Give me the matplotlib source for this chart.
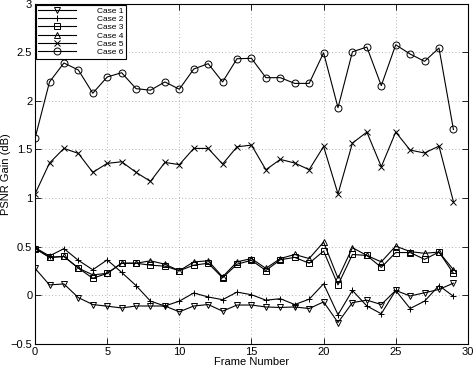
import numpy as np
import matplotlib
matplotlib.use("Agg")
import matplotlib.pyplot as plt

frames = np.arange(30)

case1 = [0.277, 0.107, 0.117, -0.024, -0.095, -0.112, -0.13, -0.11, -0.11, -0.11,
         -0.17, -0.11, -0.095, -0.163, -0.10, -0.10, -0.12, -0.125, -0.12, -0.136,
         -0.068, -0.28, -0.075, -0.05, -0.095, 0.05, -0.007, 0.026, 0.06, 0.125]
case2 = [0.49, 0.405, 0.48, 0.36, 0.263, 0.364, 0.236, 0.10, -0.06, -0.11,
         -0.06, 0.024, -0.017, -0.045, 0.033, 0.006, -0.05, -0.035, -0.095, -0.04,
         0.118, -0.2, 0.05, -0.11, -0.19, 0.05, -0.136, -0.06, 0.10, -0.01]
case3 = [0.48, 0.39, 0.40, 0.28, 0.175, 0.226, 0.33, 0.33, 0.31, 0.30,
         0.253, 0.31, 0.33, 0.18, 0.32, 0.36, 0.255, 0.366, 0.39, 0.33,
         0.455, 0.107, 0.42, 0.41, 0.287, 0.44, 0.44, 0.37, 0.445, 0.226]
case4 = [0.49, 0.39, 0.40, 0.28, 0.21, 0.226, 0.33, 0.33, 0.355, 0.32,
         0.253, 0.344, 0.355, 0.19, 0.344, 0.378, 0.277, 0.378, 0.42, 0.378,
         0.547, 0.175, 0.49, 0.41, 0.344, 0.506, 0.45, 0.432, 0.445, 0.263]
case5 = [1.043, 1.361, 1.511, 1.46, 1.265, 1.357, 1.374, 1.265, 1.172, 1.367,
         1.344, 1.511, 1.511, 1.35, 1.528, 1.545, 1.292, 1.398, 1.361, 1.292,
         1.531, 1.043, 1.566, 1.679, 1.323, 1.679, 1.494, 1.464, 1.535, 0.964]
case6 = [1.617, 2.195, 2.39, 2.318, 2.079, 2.246, 2.29, 2.126, 2.11, 2.195,
         2.12, 2.328, 2.383, 2.195, 2.434, 2.438, 2.239, 2.239, 2.18, 2.18,
         2.495, 1.93, 2.505, 2.554, 2.157, 2.577, 2.482, 2.407, 2.544, 1.706]

series = [case1, case2, case3, case4, case5, case6]
labels = ["Case 1", "Case 2", "Case 3", "Case 4", "Case 5", "Case 6"]
markers = ["v", "+", "s", "^", "x", "o"]

plt.rcParams["font.family"] = ["Liberation Sans", "DejaVu Sans"]
plt.rcParams["font.size"] = 8

fig = plt.figure(figsize=(4.74, 3.69), dpi=100)
ax = fig.add_axes([0.074, 0.068, 0.913, 0.922])

for vals, lab, mk in zip(series, labels, markers):
    ax.plot(frames, vals, color="black", linewidth=0.8, marker=mk,
            markersize=5, markerfacecolor="none", markeredgecolor="black",
            markeredgewidth=0.7, label=lab)

ax.set_xlim(0, 30)
ax.set_ylim(-0.5, 3)
ax.set_xticks(np.arange(0, 31, 5))
ax.set_yticks(np.arange(-0.5, 3.01, 0.5))
ax.set_yticklabels(["\u22120.5", "0", "0.5", "1", "1.5", "2", "2.5", "3"])
ax.grid(True, linestyle=(0, (1, 3)), color="#999999", linewidth=0.6)
ax.tick_params(direction="in", top=True, right=True, length=4, width=0.6,
               pad=2)
for s in ax.spines.values():
    s.set_linewidth(0.8)

ax.set_xlabel("Frame Number", labelpad=0)
ax.set_ylabel("PSNR Gain (dB)", labelpad=0)

leg = ax.legend(loc="upper left", fontsize=6, handlelength=4.5, numpoints=1,
                fancybox=False, framealpha=1, edgecolor="black",
                borderaxespad=0.1, labelspacing=0.05, handletextpad=2.5,
                borderpad=0.3)
leg.get_frame().set_linewidth(0.8)

fig.savefig("out.png", dpi=100)
